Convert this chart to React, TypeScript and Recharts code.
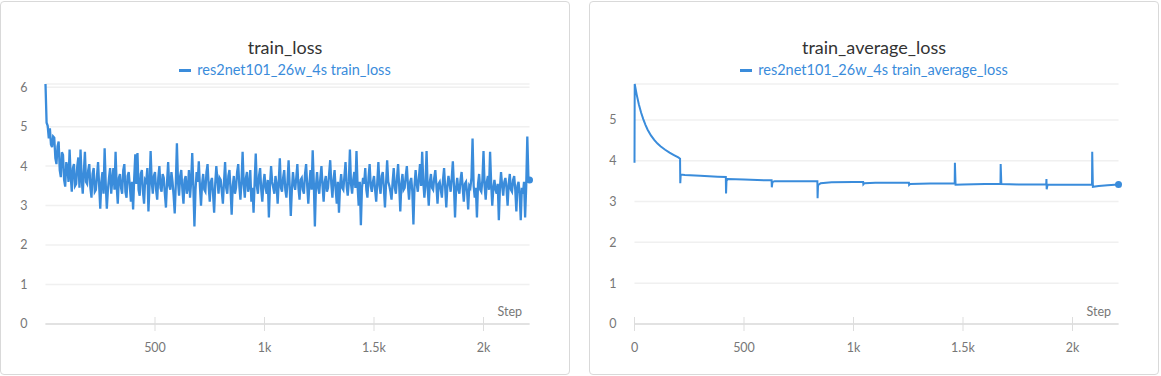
import { LineChart, Line, XAxis, YAxis, CartesianGrid } from 'recharts';

const LINE_COLOR = '#3a8cdb';
const FONT = 'Lato, "Source Sans Pro", sans-serif';

// train_loss, sampled every 5 steps from 0 to 2210
const lossValues = [
  6.08, 5.1, 5.02, 4.7, 4.96, 4.55, 4.48, 4.75, 4.72, 4.2, 4.05, 4.5, 4.62, 3.9, 3.72, 4.35, 4.28, 3.65, 3.48, 4.1,
  3.98, 3.6, 4.42, 3.75, 3.35, 3.95, 4.05, 3.5, 3.55, 4.0, 4.22, 3.45, 4.42, 3.7, 3.3, 3.85, 4.36, 3.6, 3.55, 3.9,
  4.05, 3.45, 3.2, 3.8, 3.95, 3.35, 3.4, 3.75, 4.1, 3.5, 2.92, 3.6, 3.85, 3.3, 4.45, 3.55, 2.92, 3.4, 3.7, 3.95,
  3.3, 3.65, 3.95, 3.4, 4.36, 3.5, 3.05, 3.7, 3.8, 3.45, 3.3, 3.9, 4.05, 3.35, 3.2, 3.75, 3.85, 3.5, 3.1, 3.6,
  2.9, 3.7, 4.3, 3.55, 4.33, 3.4, 3.25, 3.8, 3.9, 3.35, 3.05, 3.65, 3.6, 3.95, 2.85, 3.5, 4.38, 3.6, 3.3, 3.75,
  3.85, 3.4, 3.15, 3.7, 4.0, 3.45, 3.35, 3.8, 3.7, 3.3, 2.95, 3.6, 4.1, 3.5, 3.4, 3.85, 3.6, 3.25, 2.8, 3.55,
  4.58, 3.6, 3.25, 3.75, 3.9, 3.4, 3.05, 3.65, 3.75, 3.3, 3.45, 3.9, 3.2, 3.6, 4.33, 3.5, 2.47, 3.4, 3.85, 3.6,
  4.12, 3.5, 3.0, 3.55, 3.8, 3.4, 3.35, 3.85, 4.05, 3.5, 3.1, 3.6, 3.7, 3.3, 2.82, 3.55, 4.0, 3.65, 3.3, 3.7,
  3.65, 3.35, 3.05, 3.6, 4.1, 3.45, 3.3, 3.75, 3.9, 3.4, 2.77, 3.5, 3.75, 3.3, 3.45, 3.85, 4.05, 3.5, 3.15, 3.6,
  4.36, 3.55, 3.2, 3.7, 3.85, 3.35, 3.5, 3.9, 3.1, 3.45, 2.82, 3.6, 4.32, 3.5, 3.3, 3.75, 3.95, 3.4, 3.1, 3.55,
  3.8, 3.45, 3.3, 3.65, 2.7, 3.5, 4.0, 3.6, 3.45, 3.3, 3.75, 3.55, 3.05, 3.6, 4.2, 3.45, 3.35, 3.7, 3.9, 3.4,
  3.2, 3.6, 4.15, 3.5, 2.74, 3.4, 3.85, 3.55, 3.4, 3.7, 4.05, 3.45, 3.15, 3.65, 3.7, 3.4, 3.3, 3.8, 4.05, 3.5,
  3.05, 3.55, 3.9, 3.4, 4.4, 3.6, 2.47, 3.5, 3.85, 3.45, 3.3, 3.7, 4.0, 3.5, 3.1, 3.6, 3.75, 3.35, 3.45, 3.8,
  4.15, 3.55, 3.2, 3.65, 3.9, 3.4, 3.05, 3.6, 2.82, 3.5, 3.8, 3.45, 3.4, 3.75, 4.1, 3.5, 3.25, 3.6, 4.42, 3.55,
  3.3, 3.65, 3.85, 3.45, 4.38, 3.5, 3.0, 3.6, 2.5, 3.45, 3.7, 3.55, 3.95, 3.4, 3.2, 3.7, 4.05, 3.5, 3.35, 3.6,
  3.75, 3.4, 3.1, 3.6, 4.1, 3.5, 3.3, 3.75, 3.85, 3.45, 2.95, 3.55, 4.15, 3.6, 3.5, 3.35, 3.15, 3.6, 3.95, 3.45,
  3.3, 3.7, 4.05, 3.5, 2.85, 3.55, 3.8, 3.4, 3.45, 3.75, 4.0, 3.5, 3.15, 3.6, 3.7, 3.35, 2.52, 3.5, 3.9, 3.55,
  3.35, 3.7, 4.05, 3.5, 4.36, 3.6, 3.2, 3.55, 4.38, 3.45, 3.0, 3.6, 3.8, 3.45, 3.4, 3.7, 3.9, 3.5, 3.05, 3.55,
  3.6, 3.4, 3.2, 3.65, 3.95, 3.45, 2.95, 3.5, 3.75, 3.55, 3.35, 3.7, 4.12, 3.5, 2.7, 3.45, 3.7, 3.4, 3.3, 3.65,
  3.85, 3.45, 3.1, 3.55, 3.6, 3.35, 2.9, 3.5, 3.45, 3.7, 4.7, 3.5, 3.2, 3.45, 2.7, 3.55, 3.8, 3.4, 3.35, 3.65,
  4.38, 3.5, 3.15, 3.6, 3.75, 3.4, 4.36, 3.55, 3.0, 3.45, 3.65, 3.4, 3.3, 3.55, 2.63, 3.45, 3.85, 3.5, 3.25, 3.6,
  3.7, 3.45, 3.0, 3.55, 3.8, 3.4, 3.35, 3.65, 3.75, 3.4, 2.85, 3.5, 3.6, 3.3, 2.63, 3.45, 3.3, 3.6, 2.7, 3.5,
  4.75, 3.7, 3.65,
];
const LOSS_STEP = 5;

// train_average_loss (running mean, resets each epoch of ~209 steps)
const avgSteps = [
  0, 1, 10, 20, 30, 40, 50, 60, 75, 90, 105, 120, 140, 160, 180, 200, 208,
  209, 211, 230, 300, 380, 417,
  418, 420, 425, 500, 600, 626,
  627, 630, 640, 700, 835,
  836, 838, 850, 900, 1000, 1044,
  1045, 1050, 1100, 1253,
  1254, 1258, 1350, 1462,
  1463, 1466, 1500, 1600, 1671,
  1672, 1675, 1750, 1880,
  1881, 1882, 1886, 1950, 2089,
  2090, 2093, 2120, 2160, 2210,
];
const avgValues = [
  3.95, 5.88, 5.62, 5.38, 5.18, 5.02, 4.88, 4.76, 4.62, 4.51, 4.42, 4.35, 4.27, 4.2, 4.14, 4.08, 4.05,
  3.45, 3.66, 3.65, 3.63, 3.61, 3.6,
  3.2, 3.5, 3.55, 3.54, 3.52, 3.52,
  3.35, 3.48, 3.5, 3.5, 3.5,
  3.08, 3.4, 3.45, 3.47, 3.48, 3.48,
  3.42, 3.45, 3.46, 3.46,
  3.41, 3.43, 3.44, 3.45,
  3.95, 3.41, 3.42, 3.43, 3.43,
  3.92, 3.43, 3.42, 3.42,
  3.55, 3.3, 3.41, 3.41, 3.42,
  4.22, 3.36, 3.38, 3.4, 3.42,
];

const lossTicksX = [500, 1000, 1500, 2000];
const avgTicksX = [0, 500, 1000, 1500, 2000];
const lossTicksY = [0, 1, 2, 3, 4, 5, 6];
const avgTicksY = [0, 1, 2, 3, 4, 5];
const LAST_STEP = 2210;

const lossData = lossValues.map((v, i) => ({ step: i * LOSS_STEP, value: v }));
const avgData = avgSteps.map((s, i) => ({ step: s, value: avgValues[i] }));

function fmtStep(v: number) {
  return v >= 1000 ? `${v / 1000}k` : `${v}`;
}

function StepTick(props: any) {
  const { x, y, payload } = props;
  return (
    <g>
      <line x1={x} x2={x} y1={y - 7} y2={y + 7} stroke="#dddddd" strokeWidth={1} />
      <text x={x} y={y + 28} textAnchor="middle" fill="#777" fontSize={12.5} fontFamily={FONT}>
        {fmtStep(payload.value)}
      </text>
    </g>
  );
}

interface PanelProps {
  left: number;
  title: string;
  legend: string;
  data: { step: number; value: number }[];
  xTicks: number[];
  yTicks: number[];
  strokeWidth: number;
}

function Panel({ left, title, legend, data, xTicks, yTicks, strokeWidth }: PanelProps) {
  const last = data.length - 1;
  const endDot = (p: any) =>
    p.index === last ? (
      <circle key="end" cx={p.cx} cy={p.cy} r={3.5} fill={LINE_COLOR} />
    ) : (
      <g key={`d${p.index}`} />
    );

  return (
    <>
      <div
        style={{
          position: 'absolute',
          left,
          top: 1,
          width: 570,
          height: 374,
          boxSizing: 'border-box',
          border: '1px solid #d9d9d9',
          borderRadius: 4,
        }}
      />
      <div
        style={{
          position: 'absolute',
          left,
          top: 35,
          width: 570,
          textAlign: 'center',
          fontFamily: FONT,
          fontSize: 18,
          lineHeight: '24px',
          color: '#333',
        }}
      >
        {title}
      </div>
      <div
        style={{
          position: 'absolute',
          left,
          top: 60,
          width: 570,
          textAlign: 'center',
          fontFamily: FONT,
          fontSize: 14.5,
          lineHeight: '20px',
          color: LINE_COLOR,
        }}
      >
        <span
          style={{
            display: 'inline-block',
            width: 12,
            height: 3,
            background: LINE_COLOR,
            verticalAlign: 'middle',
            marginRight: 6,
            marginBottom: 2,
          }}
        />
        {legend}
      </div>
      <div
        style={{
          position: 'absolute',
          left: left + 470,
          width: 52,
          top: 304,
          textAlign: 'right',
          fontFamily: FONT,
          fontSize: 12.5,
          color: '#777',
        }}
      >
        Step
      </div>
      <div style={{ position: 'absolute', left, top: 0 }}>
        <LineChart
          width={560}
          height={376}
          data={data}
          margin={{ top: 84, right: 30.5, bottom: 12, left: 0 }}
        >
          <CartesianGrid vertical={false} stroke="#f0f0f0" strokeWidth={1.5} />
          <XAxis
            dataKey="step"
            type="number"
            domain={[0, LAST_STEP]}
            ticks={xTicks}
            height={40}
            tickSize={0}
            tickMargin={0}
            tickLine={false}
            axisLine={{ stroke: '#e2e2e2', strokeWidth: 2 }}
            tick={<StepTick />}
            interval={0}
          />
          <YAxis
            type="number"
            domain={[0, 'dataMax']}
            ticks={yTicks}
            width={45.5}
            axisLine={false}
            tickLine={false}
            tickSize={6}
            tickMargin={12}
            tick={{ fill: '#777', fontSize: 12.5, fontFamily: FONT }}
            interval={0}
          />
          <Line
            type="linear"
            dataKey="value"
            stroke={LINE_COLOR}
            strokeWidth={strokeWidth}
            dot={endDot}
            activeDot={false}
            isAnimationActive={false}
          />
        </LineChart>
      </div>
    </>
  );
}

export default function App() {
  return (
    <div
      style={{
        position: 'absolute',
        left: 0,
        top: 0,
        width: 1161,
        height: 376,
        background: '#fff',
        overflow: 'hidden',
      }}
    >
      <Panel
        left={0}
        title="train_loss"
        legend="res2net101_26w_4s train_loss"
        data={lossData}
        xTicks={lossTicksX}
        yTicks={lossTicksY}
        strokeWidth={2.3}
      />
      <Panel
        left={589}
        title="train_average_loss"
        legend="res2net101_26w_4s train_average_loss"
        data={avgData}
        xTicks={avgTicksX}
        yTicks={avgTicksY}
        strokeWidth={2}
      />
    </div>
  );
}
